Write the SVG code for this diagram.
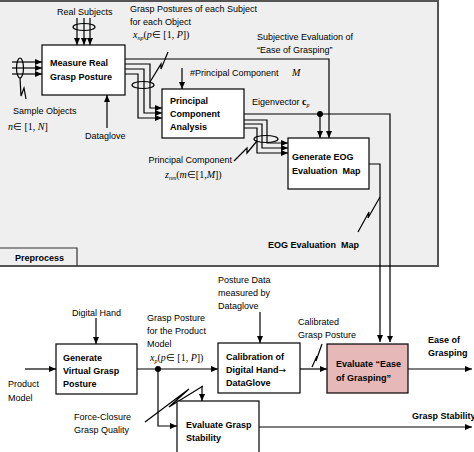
<svg xmlns="http://www.w3.org/2000/svg" width="474" height="452" viewBox="0 0 474 452">
<defs>
<marker id="ah" markerUnits="userSpaceOnUse" markerWidth="7" markerHeight="6" refX="7" refY="3" orient="auto">
<path d="M0,0 L7,3 L0,6 z" fill="#000"/>
</marker>
<style>
.t{font-family:"Liberation Sans",Arial,sans-serif;font-size:9px;fill:#000}
.b{font-family:"Liberation Sans",Arial,sans-serif;font-size:9px;font-weight:bold;fill:#000}
.m{font-family:"Liberation Serif","Times New Roman",serif;font-size:10px;fill:#000}
.i{font-style:italic}
.box{fill:#fff;stroke:#000;stroke-width:1.2}
.ln{fill:none;stroke:#000;stroke-width:1.2}
.ar{fill:none;stroke:#000;stroke-width:1.2;marker-end:url(#ah)}
.el{fill:none;stroke:#000;stroke-width:1.2}
</style>
</defs>
<rect width="474" height="452" fill="#fff"/>
<g id="preprocess">
<rect x="-2" y="1" width="440" height="265" fill="#efefef" stroke="#555" stroke-width="2"/>
<path d="M0,248 H77 V266" fill="none" stroke="#333" stroke-width="1.2"/>
<text class="b" x="15" y="261">Preprocess</text>
</g>
<g id="connectors">
<path class="ar" d="M77,18 V45"/>
<path class="ar" d="M84,18 V45"/>
<path class="ar" d="M90,18 V45"/>
<ellipse class="el" cx="84" cy="27" rx="11" ry="3.5"/>
<path class="ar" d="M12,62 H42"/>
<path class="ar" d="M12,68 H42"/>
<path class="ar" d="M12,74 H42"/>
<ellipse class="el" cx="20" cy="68" rx="3.5" ry="10"/>
<polyline class="ln" points="20,78 21,96 24,88 26,99"/>
<path class="ar" d="M107,128 V95"/>
<path class="ar" d="M125,59 H329 V138"/>
<path class="ar" d="M125,64 H150 V108 H162"/>
<path class="ar" d="M125,69 H144 V113 H162"/>
<path class="ar" d="M125,74 H138 V118 H162"/>
<ellipse class="el" cx="143" cy="85" rx="11" ry="3.5"/>
<polyline class="ln" points="150,82 161,64 161,69 168,52"/>
<path class="ar" d="M182,68 V89"/>
<path class="ln" d="M244,114 H390 V342"/>
<path d="M390,342 L387,336 L393,336 z" fill="#000"/>
<circle cx="320" cy="114" r="3" fill="#000"/>
<path class="ar" d="M320,114 V138"/>
<path class="ar" d="M244,120 H267 V143 H288"/>
<path class="ar" d="M244,124 H262 V148 H288"/>
<path class="ar" d="M244,128 H257 V153 H288"/>
<ellipse class="el" cx="266" cy="139" rx="12" ry="3.5"/>
<polyline class="ln" points="234,161 247,148 247,153 257,141"/>
<path class="ar" d="M369,164 H380 V342"/>
<polyline class="ln" points="358,232 369,212 368,218 380,197"/>
<path class="ar" d="M96,318 V344"/>
<path class="ar" d="M25,369 H56"/>
<path class="ar" d="M137,369 H218"/>
<circle cx="158" cy="369" r="3" fill="#000"/>
<path class="ar" d="M158,369 V426 H177"/>
<polyline class="ln" points="145,422 189,389 169,407 203,386"/>
<path class="ar" d="M202,386 V401"/>
<path class="ar" d="M260,312 V343"/>
<path class="ar" d="M300,369 H327"/>
<polyline class="ln" points="312,367 317,356 316,361 322,344"/>
<path class="ar" d="M408,369 H472"/>
<path class="ar" d="M259,427 H472"/>
</g>
<g id="measure">
<rect class="box" x="42" y="45" width="83" height="50"/>
<text class="b" x="50" y="66">Measure Real</text>
<text class="b" x="50" y="80">Grasp Posture</text>
</g>
<g id="pca">
<rect class="box" x="162" y="89" width="82" height="49"/>
<text class="b" x="170" y="104">Principal</text>
<text class="b" x="170" y="117">Component</text>
<text class="b" x="170" y="130">Analysis</text>
</g>
<g id="eog">
<rect class="box" x="288" y="138" width="81" height="51"/>
<text class="b" x="292" y="160">Generate EOG</text>
<text class="b" x="292" y="174" xml:space="preserve">Evaluation  Map</text>
</g>
<g id="virtual">
<rect class="box" x="56" y="344" width="81" height="50"/>
<text class="b" x="63" y="361">Generate</text>
<text class="b" x="63" y="374">Virtual Grasp</text>
<text class="b" x="63" y="387">Posture</text>
</g>
<g id="calibration">
<rect class="box" x="218" y="343" width="82" height="50"/>
<text class="b" x="226" y="360">Calibration of</text>
<text class="b" x="226" y="373">Digital Hand<tspan font-family="DejaVu Sans, sans-serif" font-weight="normal">→</tspan></text>
<text class="b" x="226" y="386">DataGlove</text>
</g>
<g id="ease">
<rect x="327" y="344" width="81" height="49" fill="#e6b9b8" stroke="#000" stroke-width="1.2"/>
<text class="b" x="336" y="367">Evaluate “Ease</text>
<text class="b" x="336" y="381">of Grasping”</text>
</g>
<g id="stability">
<rect class="box" x="177" y="401" width="82" height="60"/>
<text class="b" x="186" y="428">Evaluate Grasp</text>
<text class="b" x="186" y="441">Stability</text>
</g>
<g id="labels">
<text class="t" x="57" y="15">Real Subjects</text>
<text class="t" x="130" y="12">Grasp Postures of each Subject</text>
<text class="t" x="130" y="25">for each Object</text>
<text class="m" x="133" y="38"><tspan class="i">x</tspan><tspan class="i" font-size="6" dy="2">np</tspan><tspan dy="-2">(</tspan><tspan class="i">p</tspan>∈ [1, <tspan class="i">P</tspan>])</text>
<text class="t" x="13" y="114">Sample Objects</text>
<text class="m" x="8" y="130"><tspan class="i">n</tspan>∈ [1, <tspan class="i">N</tspan>]</text>
<text class="t" x="85" y="139">Dataglove</text>
<text class="t" x="257" y="40">Subjective Evaluation of</text>
<text class="t" x="257" y="53">“Ease of Grasping”</text>
<text class="t" x="190" y="76">#Principal Component</text>
<text class="m i" x="292" y="76">M</text>
<text class="t" x="252" y="105">Eigenvector</text>
<text class="m" x="302" y="105" font-weight="bold">c<tspan class="i" font-size="6" font-weight="normal" dy="2">p</tspan></text>
<text class="t" x="232" y="163" text-anchor="end">Principal Component</text>
<text class="m" x="165" y="178"><tspan class="i">z</tspan><tspan class="i" font-size="6" dy="2">nm</tspan><tspan dy="-2">(</tspan><tspan class="i">m</tspan>∈[1,<tspan class="i">M</tspan>])</text>
<text class="b" x="268" y="248" xml:space="preserve">EOG Evaluation  Map</text>
<text class="t" x="72" y="316">Digital Hand</text>
<text class="t" x="8" y="387">Product</text>
<text class="t" x="8" y="401">Model</text>
<text class="t" x="147" y="321">Grasp Posture</text>
<text class="t" x="147" y="334">for the Product</text>
<text class="t" x="147" y="347">Model</text>
<text class="m" x="150" y="361"><tspan class="i">x</tspan><tspan class="i" font-size="6" dy="2">p</tspan><tspan dy="-2">(</tspan><tspan class="i">p</tspan>∈ [1, <tspan class="i">P</tspan>])</text>
<text class="t" x="218" y="283">Posture Data</text>
<text class="t" x="218" y="296">measured by</text>
<text class="t" x="218" y="309">Dataglove</text>
<text class="t" x="298" y="325">Calibrated</text>
<text class="t" x="298" y="338">Grasp Posture</text>
<text class="b" x="428" y="343">Ease of</text>
<text class="b" x="428" y="356">Grasping</text>
<text class="t" x="74" y="420">Force-Closure</text>
<text class="t" x="74" y="433">Grasp Quality</text>
<text class="b" x="412" y="419">Grasp Stability</text>
</g>
</svg>
